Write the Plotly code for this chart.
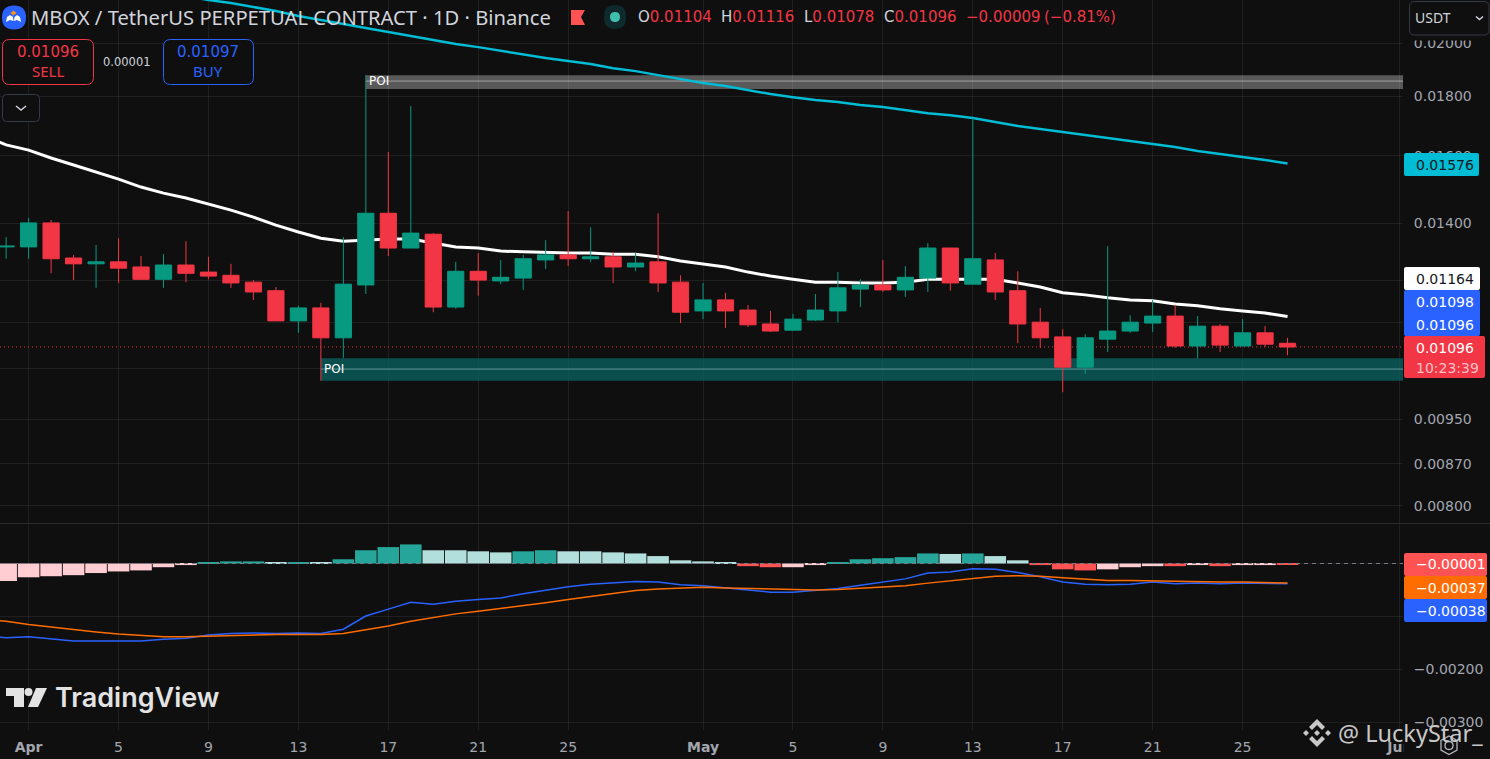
"""
MBOX / USDT 1D chart with MACD pane
"""

import numpy as np
import pandas as pd
import plotly.graph_objects as go
from plotly.subplots import make_subplots

W, H = 1490, 759
FONT = "DejaVu Sans"

UP = "#089981"
DOWN = "#F23645"
BG = "#0F0F0F"
GRID = "rgba(255,255,255,0.07)"
TICK = "#A3A6AF"

# daily candles, Mar 31 -> May 27
dates = pd.date_range("2025-03-31", "2025-05-27", freq="D")
opens = [
    .01336, .01336, .01401, .01307, .01292, .01297, .01284, .01253, .01289, .01271,
    .01263, .01246, .01225, .01154, .01184, .01116, .01239, .01428, .01333, .01370,
    .01186, .01273, .01249, .01256, .01302, .01315, .01305, .01310, .01284, .01297,
    .01246, .01177, .01203, .01179, .01147, .01133, .01156, .01177, .01229, .01239,
    .01227, .01256, .01333, .01241, .01302, .01225, .01151, .01118, .01053, .01113,
    .01131, .01149, .01165, .01098, .01142, .01098, .01127, .01104,
]
highs = [
    .01362, .01415, .01409, .01315, .01341, .01359, .01312, .01317, .01351, .01310,
    .01292, .01251, .01234, .01189, .01196, .01362, .01877, .01612, .01766, .01373,
    .01297, .01320, .01302, .01315, .01354, .01434, .01389, .01323, .01320, .01428,
    .01263, .01244, .01220, .01191, .01177, .01170, .01217, .01271, .01253, .01302,
    .01286, .01346, .01333, .01724, .01320, .01273, .01184, .01135, .01124, .01338,
    .01167, .01203, .01191, .01165, .01147, .01158, .01142, .01116,
]
lows = [
    .01305, .01305, .01268, .01251, .01232, .01244, .01251, .01232, .01246, .01253,
    .01232, .01203, .01154, .01127, .01025, .01072, .01217, .01312, .01333, .01174,
    .01182, .01213, .01241, .01227, .01279, .01286, .01297, .01244, .01273, .01222,
    .01149, .01158, .01138, .01140, .01129, .01131, .01154, .01151, .01186, .01222,
    .01210, .01222, .01225, .01241, .01203, .01104, .01094, .01002, .01039, .01085,
    .01127, .01129, .01094, .01072, .01085, .01098, .01096, .01078,
]
closes = [
    .01338, .01401, .01305, .01292, .01297, .01281, .01253, .01289, .01268, .01261,
    .01244, .01222, .01154, .01184, .01116, .01241, .01428, .01333, .01373, .01186,
    .01273, .01251, .01258, .01305, .01315, .01305, .01310, .01284, .01294, .01244,
    .01174, .01203, .01177, .01145, .01131, .01158, .01179, .01232, .01239, .01227,
    .01258, .01333, .01244, .01305, .01222, .01147, .01116, .01053, .01116, .01131,
    .01151, .01165, .01098, .01142, .01100, .01127, .01102, .01096,
]

# moving averages start one day earlier so the line reaches the left edge
ma_dates = pd.date_range("2025-03-30", "2025-05-27", freq="D")
ma_white = [
    .01664, .01635, .01618, .01593, .01571, .01550, .01528, .01504, .01486, .01472,
    .01454, .01437, .01417, .01395, .01376, .01359, .01351, .01354, .01357, .01357,
    .01346, .01336, .01333, .01325, .01323, .01321, .01320, .01320, .01317, .01317,
    .01310, .01299, .01292, .01284, .01271, .01261, .01253, .01246, .01246, .01244,
    .01244, .01246, .01253, .01253, .01253, .01253, .01244, .01234, .01220, .01215,
    .01208, .01203, .01201, .01193, .01189, .01182, .01177, .01172, .01164,
]
ma_cyan_dates = pd.date_range("2025-04-08", "2025-05-27", freq="D")
ma_cyan = [
    .02195, .02178, .02165, .02148, .02131, .02110, .02093, .02077, .02060, .02044,
    .02028, .02012, .01996, .01984, .01969, .01957, .01942, .01930, .01919, .01903,
    .01892, .01877, .01862, .01848, .01837, .01822, .01808, .01797, .01787, .01780,
    .01769, .01762, .01752, .01741, .01734, .01724, .01711, .01697, .01687, .01677,
    .01667, .01657, .01647, .01638, .01628, .01615, .01606, .01596, .01587, .01576,
]

# MACD pane
macd_hist = [
    -.00033, -.00026, -.00024, -.00022, -.00018, -.00015, -.00013, -.00007, -.00003, .00002,
    .00004, .00004, .00002, .00002, .00001, .00008, .00025, .00031, .00036, .00025,
    .00025, .00023, .00021, .00023, .00025, .00023, .00023, .00021, .00019, .00014,
    .00006, .00004, .00001, -.00005, -.00007, -.00007, -.00003, .00002, .00008, .00010,
    .00012, .00019, .00018, .00019, .00014, .00006, -.00003, -.00011, -.00013, -.00011,
    -.00007, -.00005, -.00005, -.00003, -.00005, -.00003, -.00003, -.00001,
]
hist_rising = [
    1, 1, 1, 1, 1, 1, 1, 1, 1, 1,
    1, 1, 0, 1, 0, 1, 1, 1, 1, 0,
    0, 0, 0, 1, 1, 0, 0, 0, 0, 0,
    0, 0, 0, 0, 0, 1, 1, 1, 1, 1,
    1, 1, 0, 1, 0, 0, 0, 0, 0, 1,
    1, 1, 0, 1, 0, 1, 1, 0,
]
macd_line = [
    -.00137, -.00140, -.00138, -.00142, -.00146, -.00146, -.00146, -.00146, -.00143, -.00141,
    -.00135, -.00132, -.00131, -.00132, -.00131, -.00132, -.00124, -.00099, -.00086, -.00073,
    -.00077, -.00071, -.00068, -.00065, -.00057, -.00050, -.00044, -.00039, -.00036, -.00034,
    -.00035, -.00040, -.00042, -.00046, -.00049, -.00054, -.00054, -.00051, -.00047, -.00041,
    -.00035, -.00029, -.00018, -.00016, -.00010, -.00011, -.00017, -.00025, -.00035, -.00039,
    -.00040, -.00039, -.00035, -.00038, -.00037, -.00038, -.00037, -.00037, -.00038,
]
signal_line = [
    -.00105, -.00109, -.00115, -.00120, -.00125, -.00129, -.00133, -.00136, -.00138, -.00138,
    -.00137, -.00135, -.00135, -.00134, -.00134, -.00134, -.00132, -.00125, -.00118, -.00109,
    -.00102, -.00095, -.00090, -.00085, -.00080, -.00074, -.00068, -.00062, -.00056, -.00051,
    -.00048, -.00046, -.00045, -.00046, -.00047, -.00049, -.00049, -.00050, -.00049, -.00047,
    -.00045, -.00042, -.00037, -.00033, -.00028, -.00024, -.00023, -.00024, -.00027, -.00030,
    -.00032, -.00032, -.00033, -.00034, -.00034, -.00035, -.00035, -.00036, -.00037,
]

# POI zones: low, mid, high price and the day they start
poi_grey = (.01826, .01855, .01877, "2025-04-16")
poi_teal = (.01025, .01049, .01072, "2025-04-14")
last_price = .01096

# axis ticks
price_ticks = [.020, .018, .016, .014, .0125, .0115, .0105, .0095, .0087, .008]
price_labels = ["0.02000", "0.01800", "0.01600", "0.01400", "0.01250", "0.01150",
                "0.01050", "0.00950", "0.00870", "0.00800"]
macd_ticks = [0, -.001, -.002, -.003]
macd_labels = ["0.00000", "\u22120.00100", "\u22120.00200", "\u22120.00300"]
date_ticks = ["2025-04-01", "2025-04-05", "2025-04-09", "2025-04-13", "2025-04-17", "2025-04-21",
              "2025-04-25", "2025-05-01", "2025-05-05", "2025-05-09", "2025-05-13", "2025-05-17",
              "2025-05-21", "2025-05-25", "2025-06-01"]
date_labels = ["<b>Apr</b>", "5", "9", "13", "17", "21", "25", "<b>May</b>", "5", "9", "13", "17",
               "21", "25", "<b>Jun</b>"]

x_range = ["2025-03-30 17:27", "2025-06-01 03:16"]
price_range = [np.log10(.007735), np.log10(.02178)]
macd_range = [-.00314, .000745]


def px(x):
    return x / W


def py(y):
    return 1 - y / H


def rounded(x0, y0, x1, y1, r):
    """rounded rectangle as an svg path, in picture pixels"""
    a, b, c, d = px(x0), px(x1), py(y0), py(y1)
    rx, ry = r / W, r / H
    return (f"M{a + rx},{c} L{b - rx},{c} Q{b},{c} {b},{c - ry} L{b},{d + ry} Q{b},{d} {b - rx},{d} "
            f"L{a + rx},{d} Q{a},{d} {a},{d + ry} L{a},{c - ry} Q{a},{c} {a + rx},{c} Z")


def poly(points):
    return "M" + " L".join(f"{px(x)},{py(y)}" for x, y in points) + " Z"


fig = make_subplots(rows=2, cols=1, shared_xaxes=True, vertical_spacing=0)


def box(x0, y0, x1, y1, fill, line=None, r=0, width=1):
    fig.add_shape(type="path", xref="paper", yref="paper", path=rounded(x0, y0, x1, y1, r),
                  fillcolor=fill, line=dict(color=line or fill, width=width if line else 0),
                  layer="above")


def shape_poly(points, fill, line=None, width=1):
    fig.add_shape(type="path", xref="paper", yref="paper", path=poly(points),
                  fillcolor=fill, line=dict(color=line or fill, width=width if line else 0),
                  layer="above")


def label(x, y, text, size=14, color="#FFFFFF", anchor="left", family=FONT, weight=None):
    font = dict(family=family, size=size, color=color)
    if weight:
        font["weight"] = weight
    fig.add_annotation(xref="paper", yref="paper", x=px(x), y=py(y), text=text, showarrow=False,
                       xanchor=anchor, yanchor="middle", borderpad=0, font=font)


# moving averages sit under the candles, on the base axis
fig.add_trace(go.Scatter(x=ma_cyan_dates, y=ma_cyan, mode="lines",
                         line=dict(color="#00BCD4", width=2.5)), row=1, col=1)
fig.add_trace(go.Scatter(x=ma_dates, y=ma_white, mode="lines",
                         line=dict(color="#FFFFFF", width=3)), row=1, col=1)

fig.add_trace(go.Candlestick(
    x=dates, open=opens, high=highs, low=lows, close=closes,
    increasing=dict(line=dict(color=UP, width=1), fillcolor=UP),
    decreasing=dict(line=dict(color=DOWN, width=1), fillcolor=DOWN),
    whiskerwidth=0, xaxis="x", yaxis="y3",
))

hist_colors = []
for v, rising in zip(macd_hist, hist_rising):
    if v >= 0:
        hist_colors.append("#26A69A" if rising else "#B2DFDB")
    else:
        hist_colors.append("#FFCDD2" if rising else "#FF5252")

fig.add_trace(go.Bar(x=dates, y=macd_hist, marker=dict(color=hist_colors, line=dict(width=0))),
              row=2, col=1)
fig.add_trace(go.Scatter(x=ma_dates, y=macd_line, mode="lines",
                         line=dict(color="#2962FF", width=1.5)), row=2, col=1)
fig.add_trace(go.Scatter(x=ma_dates, y=signal_line, mode="lines",
                         line=dict(color="#FF6D00", width=1.5)), row=2, col=1)

fig.update_layout(
    width=W, height=H,
    margin=dict(l=0, r=0, t=0, b=0, autoexpand=False),
    paper_bgcolor=BG, plot_bgcolor=BG,
    showlegend=False, bargap=0.04, boxgap=0.28, boxgroupgap=0,
    font=dict(family=FONT, size=14, color=TICK),
)
x_common = dict(range=x_range, tickmode="array", tickvals=date_ticks, showgrid=True,
                gridcolor=GRID, gridwidth=1, zeroline=False, showline=False,
                domain=[0, 1403 / W], rangeslider=dict(visible=False))
fig.update_layout(
    xaxis=dict(**x_common, showticklabels=False, ticks=""),
    xaxis2=dict(**x_common, ticktext=date_labels, showticklabels=True, ticks="outside",
                ticklen=4, tickcolor=BG, tickfont=dict(family=FONT, size=14, color=TICK)),
    yaxis=dict(type="log", range=price_range, domain=[1 - 523 / H, 1], side="right",
               tickmode="array", tickvals=price_ticks, ticktext=price_labels, showgrid=True,
               gridcolor=GRID, zeroline=False, ticks="outside", ticklen=7, tickcolor=BG,
               tickfont=dict(family=FONT, size=14, color=TICK)),
    yaxis2=dict(range=macd_range, domain=[1 - 730 / H, 1 - 524 / H], side="right",
                tickmode="array", tickvals=macd_ticks, ticktext=macd_labels, showgrid=True,
                gridcolor=GRID, zeroline=False, ticks="outside", ticklen=7, tickcolor=BG,
                tickfont=dict(family=FONT, size=14, color=TICK)),
    yaxis3=dict(type="log", range=price_range, domain=[1 - 523 / H, 1], overlaying="y",
                side="right", visible=False),
)

# POI zones
for low, mid, high, start, fill, mid_col in [
    (*poi_grey, "rgba(255,255,255,0.31)", "rgba(255,255,255,0.45)"),
    (*poi_teal, "rgba(10,100,100,0.75)", "rgba(178,223,219,0.5)"),
]:
    fig.add_shape(type="rect", xref="x", yref="y", x0=start, x1=x_range[1], y0=low, y1=high,
                  fillcolor=fill, line_width=0, layer="between")
    fig.add_shape(type="line", xref="x", yref="y", x0=start, x1=x_range[1], y0=mid, y1=mid,
                  line=dict(color=mid_col, width=1), layer="between")
    fig.add_annotation(xref="x", yref="y", x=start, y=np.log10(mid), text="POI", showarrow=False,
                       xanchor="left", yanchor="middle", xshift=1,
                       font=dict(family=FONT, size=12, color="#FFFFFF"))

# last price dotted line and macd zero line
fig.add_shape(type="line", xref="x", yref="y", x0=x_range[0], x1=x_range[1], y0=last_price,
              y1=last_price, line=dict(color=DOWN, width=1, dash="1px,3px"), layer="between")
fig.add_shape(type="line", xref="x2", yref="y2", x0=x_range[0], x1=x_range[1], y0=0, y1=0,
              line=dict(color="#787B86", width=1, dash="4px,4px"), layer="above")

# pane separator
fig.add_shape(type="line", xref="paper", yref="paper", x0=0, x1=1, y0=py(523.5), y1=py(523.5),
              line=dict(color="#2A2A2A", width=1), layer="above")

# corner cover so the last date label is cut at the axis edge
box(1403.5, 731, W, H, BG)

# header
box(2, 5.5, 26, 29.5, "#2962FF", r=12)
shape_poly([(6, 22), (7, 17), (10, 15), (13, 17), (13.5, 21), (10, 20)], "#FFFFFF")
shape_poly([(21, 22), (20, 17), (17, 15), (14.5, 17), (14, 21), (17, 20)], "#FFFFFF")
shape_poly([(13.5, 10.5), (16.5, 13), (13.5, 15.5), (10.5, 13)], "#F7931A")
label(30, 17, "MBOX / TetherUS PERPETUAL CONTRACT \u00b7 1D \u00b7 Binance", size=20.2, color="#D1D4DC", family="Noto Sans")
shape_poly([(571, 10), (585, 10), (581, 17), (585, 25), (571, 25)], "#FF5252")
box(604, 5, 626, 29, "#0E2A2C", r=11)
box(610, 12, 620, 22, "#3FBFAD", r=5)

for x, letter, value in [(637, "O", "0.01104"), (720, "H", "0.01116"),
                         (803, "L", "0.01078"), (883, "C", "0.01096")]:
    label(x, 17, f'<span style="color:#D1D4DC">{letter}</span>{value}', size=15, color=DOWN)
label(965, 17, "\u22120.00009", size=15, color=DOWN)
label(1043, 17, "(\u22120.81%)", size=15, color=DOWN)

# sell / buy boxes
box(2.5, 39.5, 93.5, 84.5, BG, DOWN, r=7)
label(48, 52, "0.01096", size=15, color=DOWN, anchor="center")
label(48, 71, "SELL", size=15, color=DOWN, anchor="center", family="Noto Sans")
label(127, 62, "0.00001", size=11.5, color="#D1D4DC", anchor="center")
box(163.5, 39.5, 253.5, 84.5, BG, "#2962FF", r=7)
label(208, 52, "0.01097", size=15, color="#2962FF", anchor="center")
label(208, 71, "BUY", size=15, color="#2962FF", anchor="center", family="Noto Sans")
box(2.5, 94.5, 39.5, 121.5, BG, "#363A45", r=4)
fig.add_shape(type="path", xref="paper", yref="paper", layer="above",
              path=f"M{px(16)},{py(106)} L{px(21)},{py(110)} L{px(26)},{py(106)}",
              line=dict(color="#D1D4DC", width=1.5))

# currency selector
box(1404, 0, W, 40.5, BG)
box(1409.5, 1.5, 1489, 35, BG, "#363A45", r=5)
label(1414, 18, "USDT", size=14, color="#D1D4DC", family="Noto Sans")
fig.add_shape(type="path", xref="paper", yref="paper", layer="above",
              path=f"M{px(1476)},{py(16.5)} L{px(1479.5)},{py(19.5)} L{px(1483)},{py(16.5)}",
              line=dict(color="#D1D4DC", width=1.5))

# price scale labels
box(1404, 153, 1479, 176, "#00BCD4", r=2)
label(1415, 165, "0.01576", color="#131722")
box(1404, 267, 1480, 290, "#FFFFFF", r=2)
label(1415, 279, "0.01164", color="#131722")
box(1404, 290, 1480, 336, "#2962FF", r=2)
label(1415, 302, "0.01098")
label(1415, 325, "0.01096")
box(1404, 336, 1485, 378, DOWN, r=2)
label(1415, 348, "0.01096")
label(1415, 368, "10:23:39", color="#FAC0C6")

# macd scale labels
box(1404, 553, 1487, 576, "#FF5252", r=2)
label(1415, 564, "\u22120.00001")
box(1404, 576, 1487, 599, "#FF6D00", r=2)
label(1415, 588, "\u22120.00037")
box(1404, 599, 1487, 622, "#2962FF", r=2)
label(1415, 611, "\u22120.00038")

# TradingView watermark
shape_poly([(6, 688), (24, 688), (24, 707), (14, 707), (14, 696), (6, 696)], "#E3E3E3")
box(24.5, 688, 32.5, 696, "#E3E3E3", r=4)
shape_poly([(36, 688), (47, 688), (38, 707), (28, 707)], "#E3E3E3")
label(54, 697, "TradingView", size=27, color="#E3E3E3", family="Inter", weight=600)

# LuckyStar watermark
cx, cy = 1317, 733
shape_poly([(cx, cy - 14), (cx + 8, cy - 6), (cx + 5, cy - 3), (cx, cy - 8), (cx - 5, cy - 3), (cx - 8, cy - 6)], "#C8C8C8")
shape_poly([(cx, cy + 14), (cx + 8, cy + 6), (cx + 5, cy + 3), (cx, cy + 8), (cx - 5, cy + 3), (cx - 8, cy + 6)], "#C8C8C8")
for dx in [-11, 0, 11]:
    shape_poly([(cx + dx, cy - 3), (cx + dx + 3, cy), (cx + dx, cy + 3), (cx + dx - 3, cy)], "#C8C8C8")

# scale settings icon
shape_poly([(1449, 736), (1457, 740.5), (1457, 750), (1449, 754.5), (1441, 750), (1441, 740.5)], BG, "#B2B5BE", 1.3)
box(1445, 741.5, 1453, 749.5, BG, "#B2B5BE", r=4, width=1.3)

label(1337, 733, "@ LuckyStar_", size=23.5, color="#C8C8C8", family="Noto Sans")

fig.write_html("out.html", config=dict(displayModeBar=False),
               post_script="document.body.style.margin='0';document.body.style.overflow='hidden';")
